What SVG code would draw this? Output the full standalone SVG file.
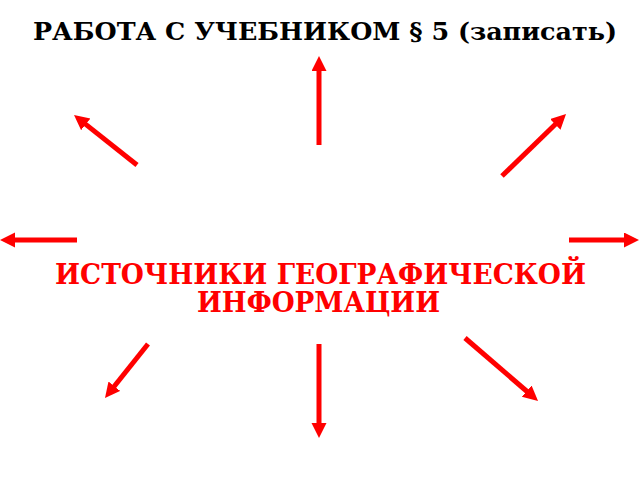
<svg xmlns="http://www.w3.org/2000/svg" width="640" height="480" viewBox="0 0 640 480">
<style>
.title{font-family:"DejaVu Serif","Liberation Serif",serif;font-weight:bold;fill:#000}
.main{font-family:"DejaVu Serif","Liberation Serif",serif;font-weight:bold;fill:#ff0000}
.arr{stroke:#ff0000;stroke-width:5;fill:none;marker-end:url(#ah)}
</style>
<defs>
<marker id="ah" markerUnits="userSpaceOnUse" markerWidth="16" markerHeight="16" refX="2" refY="7.5" orient="auto">
<path d="M0,0 L15,7.5 L0,15 z" fill="#ff0000"/>
</marker>
</defs>
<rect width="640" height="480" fill="#fff"/>
<g id="title"><text class="title" x="33" y="40" font-size="24" textLength="584" lengthAdjust="spacingAndGlyphs">РАБОТА С УЧЕБНИКОМ § 5 (записать)</text></g>
<g id="center">
<text class="main" x="55" y="284" font-size="27" textLength="531" lengthAdjust="spacingAndGlyphs">ИСТОЧНИКИ ГЕОГРАФИЧЕСКОЙ</text>
<text class="main" x="197" y="312" font-size="27" textLength="243" lengthAdjust="spacingAndGlyphs">ИНФОРМАЦИИ</text>
</g>
<g id="connectors">
<line class="arr" x1="319" y1="145" x2="319" y2="69"/>
<line class="arr" x1="137" y1="165" x2="84.2" y2="123.1"/>
<line class="arr" x1="77" y1="240" x2="13" y2="240"/>
<line class="arr" x1="502" y1="176" x2="556.7" y2="123"/>
<line class="arr" x1="569" y1="240" x2="626" y2="240"/>
<line class="arr" x1="148" y1="344" x2="113.1" y2="387.8"/>
<line class="arr" x1="319" y1="344" x2="319" y2="425"/>
<line class="arr" x1="465" y1="338" x2="528.2" y2="392.5"/>
</g>
</svg>
